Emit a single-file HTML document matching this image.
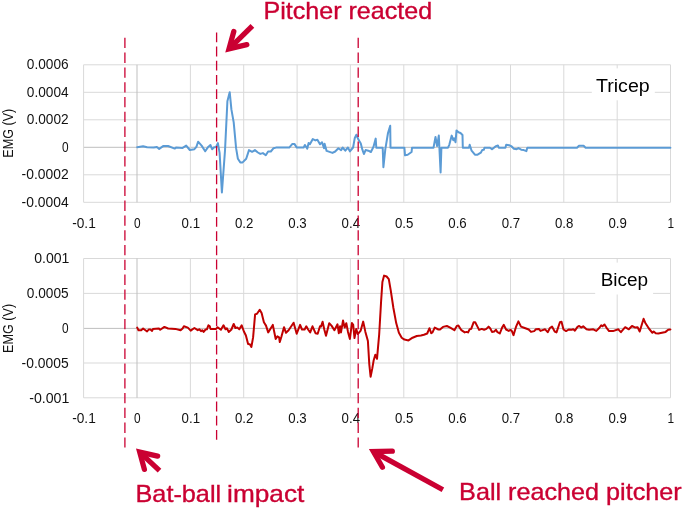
<!DOCTYPE html>
<html lang="en"><head><meta charset="utf-8"><title>EMG chart</title>
<style>
html,body{margin:0;padding:0;background:#fff;}
body{width:685px;height:510px;overflow:hidden;}
svg{display:block;}
text{font-family:"Liberation Sans",sans-serif;}
.tick{font-size:14.1px;fill:#111;}
.ann{font-size:24px;fill:#CA0032;stroke:#CA0032;stroke-width:0.35px;}
.lbl{font-size:18.3px;fill:#000;}
.ttl{font-size:14.4px;fill:#111;}
</style></head><body>
<svg width="685" height="510" viewBox="0 0 685 510">
<rect x="0" y="0" width="685" height="510" fill="#fff"/>

<line x1="83.6" y1="64.8" x2="670.5" y2="64.8" stroke="#D9D9D9" stroke-width="1"/>
<line x1="83.6" y1="92.3" x2="670.5" y2="92.3" stroke="#D9D9D9" stroke-width="1"/>
<line x1="83.6" y1="119.8" x2="670.5" y2="119.8" stroke="#D9D9D9" stroke-width="1"/>
<line x1="83.6" y1="147.3" x2="670.5" y2="147.3" stroke="#BFBFBF" stroke-width="1"/>
<line x1="83.6" y1="174.8" x2="670.5" y2="174.8" stroke="#D9D9D9" stroke-width="1"/>
<line x1="83.6" y1="202.3" x2="670.5" y2="202.3" stroke="#D9D9D9" stroke-width="1"/>
<line x1="83.6" y1="64.8" x2="83.6" y2="202.3" stroke="#D9D9D9" stroke-width="1"/>
<line x1="137.0" y1="64.8" x2="137.0" y2="202.3" stroke="#BFBFBF" stroke-width="1"/>
<line x1="190.4" y1="64.8" x2="190.4" y2="202.3" stroke="#D9D9D9" stroke-width="1"/>
<line x1="243.7" y1="64.8" x2="243.7" y2="202.3" stroke="#D9D9D9" stroke-width="1"/>
<line x1="297.1" y1="64.8" x2="297.1" y2="202.3" stroke="#D9D9D9" stroke-width="1"/>
<line x1="350.4" y1="64.8" x2="350.4" y2="202.3" stroke="#D9D9D9" stroke-width="1"/>
<line x1="403.8" y1="64.8" x2="403.8" y2="202.3" stroke="#D9D9D9" stroke-width="1"/>
<line x1="457.1" y1="64.8" x2="457.1" y2="202.3" stroke="#D9D9D9" stroke-width="1"/>
<line x1="510.5" y1="64.8" x2="510.5" y2="202.3" stroke="#D9D9D9" stroke-width="1"/>
<line x1="563.8" y1="64.8" x2="563.8" y2="202.3" stroke="#D9D9D9" stroke-width="1"/>
<line x1="617.2" y1="64.8" x2="617.2" y2="202.3" stroke="#D9D9D9" stroke-width="1"/>
<line x1="670.5" y1="64.8" x2="670.5" y2="202.3" stroke="#D9D9D9" stroke-width="1"/>
<rect x="591.8" y="68.4" width="63.0" height="31.9" fill="#fff"/>
<text class="lbl" x="596" y="91.9" textLength="53.7" lengthAdjust="spacingAndGlyphs">Tricep</text>
<polyline points="137.2,147.2 143.1,146.3 147.1,147.3 153.7,147.6 156.9,146.9 159.2,148.9 163.5,145.9 168.1,146.0 174.7,148.6 176,147.6 182.6,147.9 186.2,145.6 189.8,150 194.4,149.2 196.4,146.9 198.1,141.7 201.6,145.6 205.2,151.3 208.2,146.9 210.4,145 212.1,149.2 214.1,147.3 216.1,146.9 217.9,143.1 219.6,152.9 221.9,192.5 225,150.6 227.4,101.2 229.7,92.2 231.4,109.4 233.7,122.4 236.1,148.2 237.9,158.8 240.3,162.4 242.6,162.4 246.2,158.8 249,150.1 252.1,151.8 254.9,150.1 257.9,152.5 260.3,153.9 262.9,153.1 265.8,155.2 268.1,151.5 270.8,151.5 273.4,148.3 276,147.6 289.2,147.6 292.4,143.9 294.4,143.9 296.8,147.6 303.6,147.6 304.9,145 307.3,148.6 308.6,143 309.9,144.3 312.8,139.1 315.4,140.4 317.4,139.7 320,144.3 322,142.3 324,148.3 324.6,143.7 326.6,150.9 332.5,152.9 335.2,151.5 338.4,148.3 341.1,150.2 342.6,147.5 345.3,150.7 347.9,147.5 349.9,151.4 353.1,147.5 354.7,138.3 356.4,134.7 358.4,139.6 360.8,143.5 362.3,149.4 363.9,154 365.6,150.1 368.3,150.7 370.9,152 373.5,146.8 375.7,138.6 376.3,147.7 382.7,147.7 383.4,167.2 385.3,149.4 388,133 390.2,125.8 390.5,147.7 404.4,147.7 405,155.3 407.7,154.7 411.6,152 412,147.7 433.5,147.7 435.5,136.9 437.1,146.1 438.8,135.6 440.6,172.5 441.4,147.7 448,147.7 449.3,144.8 451.7,135.6 453.3,140.2 454.2,138.3 455.5,142.2 456.5,130.4 458.5,132.3 460.5,133 462.5,135 462.8,147.7 469,147.7 469.7,144.8 471.6,150.7 474.9,154.7 477.6,154.7 480.8,152.7 482.2,150.1 483.9,149.8 484.4,147.7 490,147.7 492,149.2 496,146.1 497.9,145.5 498.8,147.7 505.4,147.7 506.2,144.8 509.1,145.2 511.7,146.5 513.9,148.8 516.6,149.2 518.5,148.1 521.2,149.7 523.8,150.1 526.4,151.1 527.3,147.7 577,147.7 579,145.7 583.6,145.7 585.6,147.7 670.4,147.7" fill="none" stroke="#5B9BD5" stroke-width="2" stroke-linejoin="round" stroke-linecap="round"/>
<text class="tick" x="26.8" y="69.0" textLength="41.8" lengthAdjust="spacingAndGlyphs">0.0006</text>
<text class="tick" x="26.8" y="96.5" textLength="41.8" lengthAdjust="spacingAndGlyphs">0.0004</text>
<text class="tick" x="26.8" y="124.0" textLength="41.8" lengthAdjust="spacingAndGlyphs">0.0002</text>
<text class="tick" x="62.0" y="151.5" textLength="6.6" lengthAdjust="spacingAndGlyphs">0</text>
<text class="tick" x="21.6" y="179.0" textLength="47.0" lengthAdjust="spacingAndGlyphs">-0.0002</text>
<text class="tick" x="21.6" y="206.5" textLength="47.0" lengthAdjust="spacingAndGlyphs">-0.0004</text>
<text class="tick" x="72.2" y="227.6" textLength="23.6" lengthAdjust="spacingAndGlyphs">-0.1</text>
<text class="tick" x="134.1" y="227.6" textLength="6.6" lengthAdjust="spacingAndGlyphs">0</text>
<text class="tick" x="181.6" y="227.6" textLength="18.4" lengthAdjust="spacingAndGlyphs">0.1</text>
<text class="tick" x="234.9" y="227.6" textLength="18.4" lengthAdjust="spacingAndGlyphs">0.2</text>
<text class="tick" x="288.3" y="227.6" textLength="18.4" lengthAdjust="spacingAndGlyphs">0.3</text>
<text class="tick" x="341.6" y="227.6" textLength="18.4" lengthAdjust="spacingAndGlyphs">0.4</text>
<text class="tick" x="395.0" y="227.6" textLength="18.4" lengthAdjust="spacingAndGlyphs">0.5</text>
<text class="tick" x="448.3" y="227.6" textLength="18.4" lengthAdjust="spacingAndGlyphs">0.6</text>
<text class="tick" x="501.7" y="227.6" textLength="18.4" lengthAdjust="spacingAndGlyphs">0.7</text>
<text class="tick" x="555.0" y="227.6" textLength="18.4" lengthAdjust="spacingAndGlyphs">0.8</text>
<text class="tick" x="608.4" y="227.6" textLength="18.4" lengthAdjust="spacingAndGlyphs">0.9</text>
<text class="tick" x="667.6" y="227.6" textLength="6.6" lengthAdjust="spacingAndGlyphs">1</text>
<text class="ttl" transform="translate(13.3,157.7) rotate(-90)" textLength="49" lengthAdjust="spacingAndGlyphs">EMG (V)</text>
<line x1="83.6" y1="258.5" x2="670.5" y2="258.5" stroke="#D9D9D9" stroke-width="1"/>
<line x1="83.6" y1="293.4" x2="670.5" y2="293.4" stroke="#D9D9D9" stroke-width="1"/>
<line x1="83.6" y1="328.4" x2="670.5" y2="328.4" stroke="#BFBFBF" stroke-width="1"/>
<line x1="83.6" y1="363.0" x2="670.5" y2="363.0" stroke="#D9D9D9" stroke-width="1"/>
<line x1="83.6" y1="397.8" x2="670.5" y2="397.8" stroke="#D9D9D9" stroke-width="1"/>
<line x1="83.6" y1="258.5" x2="83.6" y2="397.8" stroke="#D9D9D9" stroke-width="1"/>
<line x1="137.0" y1="258.5" x2="137.0" y2="397.8" stroke="#BFBFBF" stroke-width="1"/>
<line x1="190.4" y1="258.5" x2="190.4" y2="397.8" stroke="#D9D9D9" stroke-width="1"/>
<line x1="243.7" y1="258.5" x2="243.7" y2="397.8" stroke="#D9D9D9" stroke-width="1"/>
<line x1="297.1" y1="258.5" x2="297.1" y2="397.8" stroke="#D9D9D9" stroke-width="1"/>
<line x1="350.4" y1="258.5" x2="350.4" y2="397.8" stroke="#D9D9D9" stroke-width="1"/>
<line x1="403.8" y1="258.5" x2="403.8" y2="397.8" stroke="#D9D9D9" stroke-width="1"/>
<line x1="457.1" y1="258.5" x2="457.1" y2="397.8" stroke="#D9D9D9" stroke-width="1"/>
<line x1="510.5" y1="258.5" x2="510.5" y2="397.8" stroke="#D9D9D9" stroke-width="1"/>
<line x1="563.8" y1="258.5" x2="563.8" y2="397.8" stroke="#D9D9D9" stroke-width="1"/>
<line x1="617.2" y1="258.5" x2="617.2" y2="397.8" stroke="#D9D9D9" stroke-width="1"/>
<line x1="670.5" y1="258.5" x2="670.5" y2="397.8" stroke="#D9D9D9" stroke-width="1"/>
<rect x="595.2" y="262.6" width="57.9" height="31.9" fill="#fff"/>
<text class="lbl" x="600.7" y="285.6" textLength="47.4" lengthAdjust="spacingAndGlyphs">Bicep</text>
<polyline points="137.2,327.6 138.5,330.2 141.2,330.2 143.1,328.5 147.1,331.5 148.7,329.5 150.4,329.5 152.1,330.9 153,328.9 158.9,328.5 160.2,329.8 164.4,326.9 168.1,328.5 175.3,328.9 180.6,330.2 182.6,328.5 183.9,326.3 187.8,327.6 190.7,330.6 194.4,328 197.7,330.2 199.3,329.3 201,331.1 202.3,330.2 203.6,331.9 205.6,329.5 206.9,329.3 208.4,325.3 209.8,326.3 210.4,328.9 216.1,328.9 217.6,327.2 220.9,329.8 223.5,325.3 225.5,329.3 226.8,328.2 228.8,331.9 231.4,329.5 233.7,324 235.4,328 237.3,327.6 239.3,329.3 241.7,325.3 243.9,331.5 245.9,335.5 248.1,344 249.8,344.3 251.4,346.9 253.1,337.4 255.1,314.4 257,313.8 259.7,309.8 261.6,313.1 263.9,322.3 266,325.6 268.2,332.4 272.8,324.9 275.7,339 277.4,336.4 279.1,337.4 279.8,342 281.4,336.8 284,327.2 286,332.8 288.6,330.2 293.6,322.7 296.7,333.7 300.1,324.9 302,329.5 304.6,329.5 306.3,326.3 308.1,329.5 310.2,332.4 312.5,326.3 315.5,333.2 317.7,333.7 320,326.3 321,326.6 322.6,321.7 324.3,329.5 326,335.8 329.2,323.2 331.5,325.6 334.4,330.2 337.5,324.3 338.8,333.2 340.1,326.3 341,332.4 343,320.6 344.7,327.6 346.3,323.2 348,331.9 349.9,339 351.9,323 353.2,324.9 354.5,338.1 356.2,328.9 357.8,334.1 360.7,330.6 363.2,321.6 365.4,331.9 367.9,341 369.3,364.3 370.6,376.7 372.3,368.4 373.7,360.2 375.3,354.7 377,358.8 379.2,334.1 381.1,301.2 382.4,282 384.1,275.6 386.6,276.5 388.8,279.2 390.7,290.2 393.4,308 396.2,323.1 398.9,332.7 401.7,337.7 404.4,339.6 408.5,340.4 412.6,337.7 416.8,336 420.9,335.5 423.9,334.8 427.2,333.5 429.5,328.2 431.2,333.2 432.5,332.4 434.7,327.6 438.4,329.5 440,329.5 443,326.9 446.9,326 450.2,327.6 454.4,330.2 456.8,325.9 458.4,325.6 461.4,330.2 464.7,332.4 466.6,331.9 468,332.4 469.7,329.3 471.2,328.9 473.6,322.3 475.2,322.3 477.6,326.9 479.1,329.9 481.8,328.9 484.1,329.8 486.4,328.9 488.6,326.6 490.3,328.5 492,331.9 494.2,331.5 496,329.8 497.5,332.2 499.8,333.5 502.1,327.6 503.8,324.9 506.1,329.5 508.7,330.9 510.5,329.8 511.8,330.9 513.5,335.1 516.2,326.3 518.4,321.4 521,326.6 524.7,328 528.7,329.5 531,331.9 534.2,331.1 535.9,329.3 538.9,328.9 540.5,330.9 545.1,329.3 547.7,332.2 549.9,328 552,326.6 554.7,331.5 556.5,332.4 559.9,322.3 561.5,321.7 563.5,329.5 566.1,331.1 568.7,329.5 571.4,329.8 573.3,329.3 574.9,330.6 577.5,326.9 579.2,325.9 581.2,327.6 583.2,326.3 586.5,329.3 589.1,329.8 593.3,329.3 596.3,330.9 599.2,328 601.2,325.3 602.5,326.3 604.5,324.5 606.4,327.6 609.1,331.1 613,331.1 618.3,329.3 620.9,332.2 625.2,327.2 628.8,329.3 632,326 635.3,327.6 637.6,327.2 639.7,331.5 643.6,318.8 645.2,322.7 648.9,328.5 652.4,332.8 653.7,331.5 655.7,333.2 658.3,333.5 665.6,331.9 668.2,329.8 670.4,329.5" fill="none" stroke="#C00000" stroke-width="2" stroke-linejoin="round" stroke-linecap="round"/>
<text class="tick" x="34.2" y="263.3" textLength="35.2" lengthAdjust="spacingAndGlyphs">0.001</text>
<text class="tick" x="26.8" y="298.2" textLength="41.8" lengthAdjust="spacingAndGlyphs">0.0005</text>
<text class="tick" x="62.0" y="333.2" textLength="6.6" lengthAdjust="spacingAndGlyphs">0</text>
<text class="tick" x="21.6" y="367.8" textLength="47.0" lengthAdjust="spacingAndGlyphs">-0.0005</text>
<text class="tick" x="29.2" y="402.6" textLength="40.2" lengthAdjust="spacingAndGlyphs">-0.001</text>
<text class="tick" x="72.2" y="423.1" textLength="23.6" lengthAdjust="spacingAndGlyphs">-0.1</text>
<text class="tick" x="134.1" y="423.1" textLength="6.6" lengthAdjust="spacingAndGlyphs">0</text>
<text class="tick" x="181.6" y="423.1" textLength="18.4" lengthAdjust="spacingAndGlyphs">0.1</text>
<text class="tick" x="234.9" y="423.1" textLength="18.4" lengthAdjust="spacingAndGlyphs">0.2</text>
<text class="tick" x="288.3" y="423.1" textLength="18.4" lengthAdjust="spacingAndGlyphs">0.3</text>
<text class="tick" x="341.6" y="423.1" textLength="18.4" lengthAdjust="spacingAndGlyphs">0.4</text>
<text class="tick" x="395.0" y="423.1" textLength="18.4" lengthAdjust="spacingAndGlyphs">0.5</text>
<text class="tick" x="448.3" y="423.1" textLength="18.4" lengthAdjust="spacingAndGlyphs">0.6</text>
<text class="tick" x="501.7" y="423.1" textLength="18.4" lengthAdjust="spacingAndGlyphs">0.7</text>
<text class="tick" x="555.0" y="423.1" textLength="18.4" lengthAdjust="spacingAndGlyphs">0.8</text>
<text class="tick" x="608.4" y="423.1" textLength="18.4" lengthAdjust="spacingAndGlyphs">0.9</text>
<text class="tick" x="667.6" y="423.1" textLength="6.6" lengthAdjust="spacingAndGlyphs">1</text>
<text class="ttl" transform="translate(13.3,352.9) rotate(-90)" textLength="49" lengthAdjust="spacingAndGlyphs">EMG (V)</text>
<line x1="124.9" y1="37.8" x2="124.9" y2="447.4" stroke="#CA0032" stroke-width="1.3" stroke-dasharray="10.3 4.5" stroke-dashoffset="0"/>
<line x1="216.6" y1="32.4" x2="216.6" y2="442.0" stroke="#CA0032" stroke-width="1.3" stroke-dasharray="9.8 4.4" stroke-dashoffset="0"/>
<line x1="358.2" y1="37.8" x2="358.2" y2="447.4" stroke="#CA0032" stroke-width="1.3" stroke-dasharray="10.3 4.5" stroke-dashoffset="0"/>
<path d="M252.4 25.8 L229.0 48.8" fill="none" stroke="#CA0032" stroke-width="5.3" stroke-linecap="butt"/>
<path d="M233.8 31.5 L229.0 48.8 L246.8 44.6" fill="none" stroke="#CA0032" stroke-width="5.3" stroke-linecap="round" stroke-linejoin="miter" stroke-miterlimit="10"/>
<path d="M159.5 470.6 L139.7 452.15" fill="none" stroke="#CA0032" stroke-width="5.3" stroke-linecap="butt"/>
<path d="M157.6 456.1 L139.7 452.15 L144.4 469.4" fill="none" stroke="#CA0032" stroke-width="5.3" stroke-linecap="round" stroke-linejoin="miter" stroke-miterlimit="10"/>
<path d="M442.9 489.7 L373.4 451.6" fill="none" stroke="#CA0032" stroke-width="5.3" stroke-linecap="butt"/>
<path d="M392.3 451.2 L373.4 451.6 L382.4 467.3" fill="none" stroke="#CA0032" stroke-width="5.3" stroke-linecap="round" stroke-linejoin="miter" stroke-miterlimit="10"/>
<text class="ann" x="263.5" y="19.3" textLength="168.6" lengthAdjust="spacingAndGlyphs">Pitcher reacted</text>
<text class="ann" y="501.8"><tspan x="135.5" textLength="85.6" lengthAdjust="spacingAndGlyphs">Bat-ball</tspan> <tspan x="227.1" textLength="77.2" lengthAdjust="spacingAndGlyphs">impact</tspan></text>
<text class="ann" x="459.1" y="499.6" textLength="222.6" lengthAdjust="spacingAndGlyphs">Ball reached pitcher</text>
</svg>
</body></html>
